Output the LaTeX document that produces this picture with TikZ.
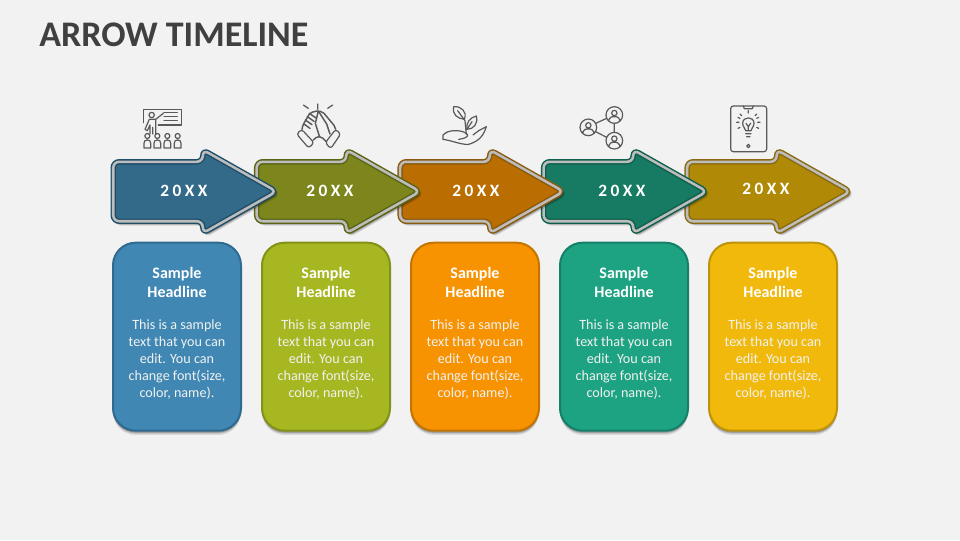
\documentclass[tikz,border=0pt]{standalone}
\usepackage{fontspec}
\setmainfont{Carlito}
\newfontfamily\yearfont[LetterSpace=20]{Carlito}
\usetikzlibrary{positioning,shapes.arrows,shadows}
\definecolor{pagegrey}{HTML}{F2F2F2}
\definecolor{titlegrey}{HTML}{404040}
\definecolor{icongrey}{HTML}{595959}
\definecolor{bandgrey}{HTML}{BDBDBD}
\definecolor{arrowblue}{HTML}{336A8A}
\definecolor{arrowolive}{HTML}{7C861C}
\definecolor{arroworange}{HTML}{BA6D00}
\definecolor{arrowteal}{HTML}{177A62}
\definecolor{arrowgold}{HTML}{B08A06}
\definecolor{edgeblue}{HTML}{1F4E69}
\definecolor{edgeolive}{HTML}{5A6413}
\definecolor{edgeorange}{HTML}{8A5A0E}
\definecolor{edgeteal}{HTML}{0E5F4C}
\definecolor{edgegold}{HTML}{8A6A10}
\definecolor{cardblue}{HTML}{4087B3}
\definecolor{cardolive}{HTML}{A7B722}
\definecolor{cardorange}{HTML}{F79200}
\definecolor{cardteal}{HTML}{1DA382}
\definecolor{cardgold}{HTML}{F0B90B}
\definecolor{rimblue}{HTML}{2F6A90}
\definecolor{rimolive}{HTML}{849117}
\definecolor{rimorange}{HTML}{C47500}
\definecolor{rimteal}{HTML}{15806A}
\definecolor{rimgold}{HTML}{BE930A}
\tikzstyle{arrowshade}=[drop shadow={shadow xshift=1.7pt,shadow yshift=-1.7pt,opacity=.14,fill=black,draw=black,line width=3pt},
  drop shadow={shadow xshift=1pt,shadow yshift=-1pt,opacity=.2,fill=black,draw=black,line width=3pt}]
\tikzstyle{cardshade}=[drop shadow={shadow xshift=0pt,shadow yshift=-3.2pt,opacity=.1,fill=black},
  drop shadow={shadow xshift=0pt,shadow yshift=-2.2pt,opacity=.14,fill=black},
  drop shadow={shadow xshift=0pt,shadow yshift=-1.4pt,opacity=.2,fill=black}]
\tikzstyle{arrowbox}=[single arrow,single arrow tip angle=59,single arrow head extend=9pt,
  minimum height=122.5pt,minimum width=61pt,inner xsep=0pt,inner ysep=21.75pt,outer sep=0pt,rounded corners=4.5pt,
  line width=1.1pt,double=bandgrey,double distance=1.9pt,arrowshade]
\tikzstyle{yeartext}=[text=white,inner sep=0pt,font=\yearfont\bfseries\fontsize{13}{15}\selectfont]
\tikzstyle{cardbox}=[rectangle,rounded corners=17pt,minimum width=96pt,minimum height=141pt,
  line width=1.5pt,cardshade]
\tikzstyle{headtext}=[align=center,text=white,inner sep=0pt,font=\bfseries\fontsize{12}{14.25}\selectfont]
\tikzstyle{bodytext}=[align=center,text=pagegrey,inner sep=0pt,font=\fontsize{10.6}{12.8}\selectfont]
\tikzstyle{iconline}=[draw=icongrey,line width=0.9pt,line cap=round,line join=round]
\tikzset{
  seated/.pic={\draw[iconline] (0,0) circle (7.5) (-10,36) -- (-10,22) .. controls (-10,15) and (-7,12) .. (0,12) .. controls (7,12) and (10,15) .. (10,22) -- (10,36) -- cycle;},
  contact/.pic={\draw[iconline] (0,0) circle (25) (0,-6) circle (8)
    (-17,18) -- (-15,12) .. controls (-13,7) and (-8,5) .. (-5,5) -- (5,5) .. controls (8,5) and (13,7) .. (15,12) -- (17,18);}
}
\newcommand{\headline}{Sample\\Headline}
\newcommand{\bodycopy}{This is a sample\\text that you can\\edit. You can\\change font(size,\\color, name).}
\begin{document}
\begin{tikzpicture}[x=0.75pt,y=-0.75pt,node distance=107.6pt]
\fill[pagegrey] (0,0) rectangle (960,540);
\useasboundingbox (0,0) rectangle (960,540);
\node[anchor=base west,text=titlegrey,inner sep=0pt,font=\bfseries\fontsize{27}{30}\selectfont] (title) at (39,46) {ARROW TIMELINE};
% arrows, last one first so that each tip lies on the next arrow
\node[arrowbox,fill=arrowgold,draw=edgegold]     (arrow_5) at (742.5,191.5)   {};
\node[arrowbox,fill=arrowteal,draw=edgeteal]     (arrow_4) [left of=arrow_5] {};
\node[arrowbox,fill=arroworange,draw=edgeorange] (arrow_3) [left of=arrow_4] {};
\node[arrowbox,fill=arrowolive,draw=edgeolive]   (arrow_2) [left of=arrow_3] {};
\node[arrowbox,fill=arrowblue,draw=edgeblue]     (arrow_1) [left of=arrow_2] {};
\node[yeartext] (year_1) at (184,191) {20XX};
\node[yeartext] (year_2) at (330,191) {20XX};
\node[yeartext] (year_3) at (476,191) {20XX};
\node[yeartext] (year_4) at (622,191) {20XX};
\node[yeartext] (year_5) at (766,188.5) {20XX};
% cards
\begin{scope}[node distance=111.75pt]
\node[cardbox,fill=cardblue,draw=rimblue]     (card_1) at (177,336.7)    {};
\node[cardbox,fill=cardolive,draw=rimolive]   (card_2) [right of=card_1] {};
\node[cardbox,fill=cardorange,draw=rimorange] (card_3) [right of=card_2] {};
\node[cardbox,fill=cardteal,draw=rimteal]     (card_4) [right of=card_3] {};
\node[cardbox,fill=cardgold,draw=rimgold]     (card_5) [right of=card_4] {};
\end{scope}
\node[headtext] (head_1) [below=19pt of card_1.north] {\headline};
\node[headtext] (head_2) [below=19pt of card_2.north] {\headline};
\node[headtext] (head_3) [below=19pt of card_3.north] {\headline};
\node[headtext] (head_4) [below=19pt of card_4.north] {\headline};
\node[headtext] (head_5) [below=19pt of card_5.north] {\headline};
\node[bodytext] (body_1) [below=16pt of head_1] {\bodycopy};
\node[bodytext] (body_2) [below=16pt of head_2] {\bodycopy};
\node[bodytext] (body_3) [below=16pt of head_3] {\bodycopy};
\node[bodytext] (body_4) [below=16pt of head_4] {\bodycopy};
\node[bodytext] (body_5) [below=16pt of head_5] {\bodycopy};
% presenter
\begin{scope}[shift={(100,90)},x=0.25pt,y=-0.25pt]
\draw[iconline] (130,98) -- (130,58) -- (245,58) -- (245,105) -- (175,105);
\draw[iconline,line width=1.2pt] (192,68) -- (232,68);
\draw[iconline] (192,80) -- (232,80) (192,92) -- (232,92);
\draw[iconline] (155,75) circle (8);
\draw[iconline] (190,70) -- (167,88) -- (148,88) -- (135,118) -- (142,122) -- (150,105) -- (150,132) (167,88) -- (167,132) (158,112) -- (158,132);
\pic at (142,138) {seated};
\pic at (172,138) {seated};
\pic at (202,138) {seated};
\pic at (233,138) {seated};
\end{scope}
% handshake
\begin{scope}[shift={(290,100)},x=0.25pt,y=-0.25pt]
\draw[iconline] (40,15) -- (55,25) (83,12) -- (83,28) (128,15) -- (113,25);
\draw[iconline,rounded corners=2pt] (20,102) -- (35,88) -- (72,128) -- (56,144) -- cycle;
\draw[iconline,rounded corners=2pt] (152,102) -- (137,88) -- (106,128) -- (122,146) -- cycle;
\draw[iconline,line width=1.1pt] (36,88) .. controls (36,76) and (48,60) .. (58,42) .. controls (66,34) and (90,28) .. (102,40) -- (132,76) -- (137,88);
\draw[iconline,line width=1.1pt] (70,120) .. controls (74,114) and (82,110) .. (88,110) .. controls (94,110) and (102,117) .. (108,124);
\draw[iconline,line width=1.1pt] (46,60) -- (66,74) (52,50) -- (72,64) (58,40) -- (78,54) (42,72) -- (60,85);
\draw[iconline,line width=1.1pt] (85,33) -- (76,70) -- (88,108) (85,33) -- (110,72) -- (120,102);
\end{scope}
% plant in hand
\begin{scope}[shift={(437,100)},x=0.25pt,y=-0.25pt]
\draw[iconline] (82,58) .. controls (62,55) and (45,45) .. (50,20) .. controls (72,18) and (92,35) .. (82,58) -- cycle;
\draw[iconline] (90,88) .. controls (86,68) and (100,52) .. (118,48) .. controls (124,70) and (110,88) .. (90,88) -- cycle;
\draw[iconline] (62,32) -- (84,62) -- (88,103) (90,88) -- (105,65);
\draw[iconline] (18,118) -- (18,105) .. controls (28,96) and (35,92) .. (58,92) .. controls (75,92) and (88,98) .. (92,105) .. controls (92,112) and (80,116) .. (65,118);
\draw[iconline] (108,105) -- (125,92) -- (148,80) .. controls (142,100) and (132,115) .. (118,123) .. controls (105,130) and (95,135) .. (85,133) .. controls (60,130) and (45,122) .. (18,118);
\end{scope}
% contacts
\begin{scope}[shift={(575,100)},x=0.25pt,y=-0.25pt]
\pic at (40,82) {contact};
\pic at (118,45) {contact};
\pic at (118,122) {contact};
\draw[iconline] (62,70) -- (95,55) (62,95) -- (95,112) (118,70) -- (118,97);
\end{scope}
% tablet with bulb
\begin{scope}[shift={(720,100)},x=0.25pt,y=-0.25pt]
\draw[iconline,rounded corners=2pt] (32,18) rectangle (140,155);
\draw[iconline] (70,18) -- (73,26) -- (97,26) -- (100,18);
\draw[iconline] (85,138) circle (5);
\draw[iconline] (77,92) .. controls (77,84) and (68,82) .. (68,70) .. controls (68,48) and (102,48) .. (102,70) .. controls (102,82) and (93,84) .. (93,92) -- cycle;
\draw[iconline] (78,70) -- (85,80) -- (92,70) (85,80) -- (85,92) (77,101) -- (93,101) (80,110) -- (90,110);
\draw[iconline] (113,67) -- (120,67) (57,67) -- (50,67) (85,39) -- (85,32) (65,47) -- (60,42) (105,47) -- (110,42)
  (110,82) -- (116,85) (60,82) -- (54,85) (110,55) -- (116,52) (60,55) -- (54,52);
\end{scope}
\end{tikzpicture}
\end{document}
